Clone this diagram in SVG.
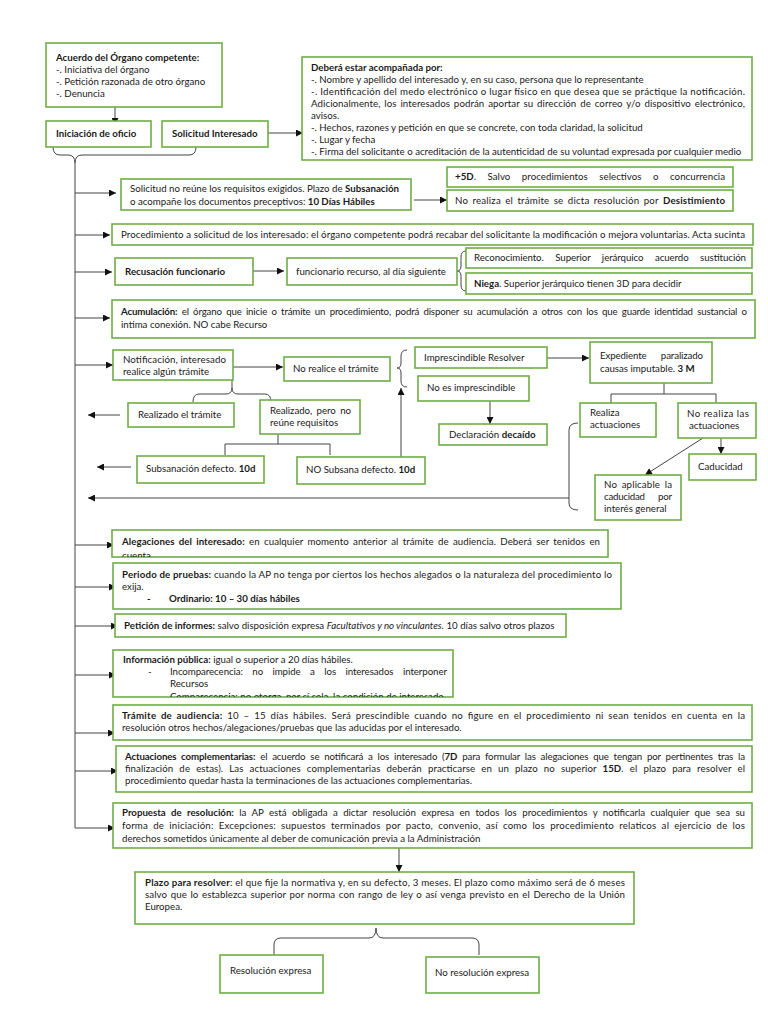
<svg xmlns="http://www.w3.org/2000/svg" width="768" height="1024" viewBox="0 0 768 1024">
<style>
.box{fill:#fff;stroke:#70ad47;stroke-width:1.6}
.t{font-family:Lato,"Open Sans","Liberation Sans",sans-serif;font-size:9.7px;fill:#1a1a1a}
.b{font-weight:bold}
.i{font-style:italic}
.c{stroke:#444;stroke-width:1;fill:none}
.ca{stroke:#444;stroke-width:1;fill:none;marker-end:url(#ah)}
</style>
<defs>
<marker id="ah" viewBox="0 0 10 10" refX="10" refY="5" markerWidth="8" markerHeight="7" markerUnits="userSpaceOnUse" orient="auto"><path d="M0,0 L10,5 L0,10 z" fill="#111"/></marker>
<clipPath id="clipAleg"><rect x="112" y="530" width="496" height="27"/></clipPath>
<clipPath id="clipInfo"><rect x="113" y="650" width="340" height="47"/></clipPath>
</defs>
<rect width="768" height="1024" fill="#fff"/>

<g id="connectors">
<path class="ca" d="M115,99 L115,125"/>
<path class="ca" d="M268,133 L303,133"/>
<path class="c" d="M53,147 Q53,155 60,155 L68,155 Q75,155 75,163 Q75,155 82,155 L189,155 Q196,155 196,147"/>
<path class="c" d="M75,163 L75,828"/>
<path class="ca" d="M75,193 L116,193"/>
<path class="ca" d="M75,235 L110,235"/>
<path class="ca" d="M75,272 L112,272"/>
<path class="ca" d="M75,318 L110,318"/>
<path class="ca" d="M75,365 L113,365"/>
<path class="ca" d="M75,545 L114,545"/>
<path class="ca" d="M75,587 L116,587"/>
<path class="ca" d="M75,626 L118,626"/>
<path class="ca" d="M75,675 L116,675"/>
<path class="ca" d="M75,733 L115,733"/>
<path class="ca" d="M75,771 L118,771"/>
<path class="ca" d="M75,828 L115,828"/>
<path class="ca" d="M414,200 L447,200"/>
<path class="ca" d="M253,271 L284,271"/>
<path class="c" d="M466,251 Q461,251 461,257 L461,266 Q461,271 457,271 Q461,271 461,276 L461,285 Q461,291 466,291"/>
<path class="ca" d="M233,367 L283,367"/>
<path class="c" d="M407,350 Q401,350 401,356 L401,363 Q401,368 397,368 Q401,368 401,373 L401,381 Q401,387 407,387"/>
<path class="ca" d="M547,358 L589,358"/>
<path class="ca" d="M490,398 L490,424"/>
<path class="c" d="M232,380 L232,388 Q232,394 238,394 L265,394 Q271,394 271,402 M232,388 Q232,394 226,394 L199,394 Q193,394 193,402"/>
<path class="ca" d="M120,415 L88,415"/>
<path class="c" d="M278,434 L278,444 M225,455 L225,444 L330,444 L330,455"/>
<path class="ca" d="M131,467 L97,467"/>
<path class="ca" d="M401,457 L401,388"/>
<path class="c" d="M664,383 L664,394 M611,404 L611,394 L716,394 L716,404"/>
<path class="ca" d="M721,438 L721,454"/>
<path class="ca" d="M703,438 L645,475"/>
<path class="c" d="M578,423 Q569,423 569,430 L569,503 Q569,510 578,510"/>
<path class="ca" d="M569,498 L88,498"/>
<path class="ca" d="M399,848 L399,872"/>
<path class="c" d="M274,955 L274,945 Q274,938 281,938 L369,938 Q376,938 376,928 Q376,938 383,938 L472,938 Q479,938 479,945 L479,955"/>
</g>

<g id="acuerdo">
<rect class="box" x="46" y="43" width="176" height="64"/>
<text class="t b" x="56" y="61">Acuerdo del Órgano competente:</text>
<text class="t" x="56" y="73">-. Iniciativa del órgano</text>
<text class="t" x="56" y="85">-. Petición razonada de otro órgano</text>
<text class="t" x="56" y="97">-. Denuncia</text>
</g>

<g id="iniciacion">
<rect class="box" x="46" y="121" width="105" height="26"/>
<text class="t b" x="56" y="137">Iniciación de oficio</text>
</g>

<g id="solicitud">
<rect class="box" x="162" y="121" width="106" height="26"/>
<text class="t b" x="172" y="137">Solicitud Interesado</text>
</g>

<g id="debera">
<rect class="box" x="302" y="57" width="450" height="103"/>
<text class="t b" x="311" y="71">Deberá estar acompañada por:</text>
<text class="t" x="311" y="83">-. Nombre y apellido del interesado y, en su caso, persona que lo representante</text>
<text class="t" x="311" y="95" textLength="434" lengthAdjust="spacing">-.  Identificación del medo electrónico o lugar físico en que desea que se práctique la notificación.</text>
<text class="t" x="311" y="107" textLength="434" lengthAdjust="spacing" style="word-spacing:1.3px">Adicionalmente, los interesados podrán aportar su dirección de correo y/o dispositivo electrónico,</text>
<text class="t" x="311" y="119">avisos.</text>
<text class="t" x="311" y="131">-. Hechos, razones y petición en que se concrete, con toda claridad, la solicitud</text>
<text class="t" x="311" y="143">-. Lugar y fecha</text>
<text class="t" x="311" y="155">-. Firma del solicitante o acreditación de la autenticidad de su voluntad expresada por cualquier medio</text>
</g>

<g id="subsanacion">
<rect class="box" x="121" y="179" width="290" height="31"/>
<text class="t" x="130" y="192">Solicitud no reúne los requisitos exigidos. Plazo de <tspan class="b">Subsanación</tspan></text>
<text class="t" x="130" y="205">o acompañe los documentos preceptivos: <tspan class="b">10 Días Hábiles</tspan></text>
</g>

<g id="mas5d">
<rect class="box" x="447" y="167" width="286" height="20"/>
<text class="t" x="455" y="180" textLength="270" lengthAdjust="spacing" style="word-spacing:9px"><tspan class="b">+5D</tspan>. Salvo procedimientos selectivos o concurrencia</text>
</g>

<g id="desistimiento">
<rect class="box" x="447" y="190" width="286" height="21"/>
<text class="t" x="455" y="204" textLength="270" lengthAdjust="spacing" style="word-spacing:1.7px">No realiza el trámite se dicta resolución por <tspan class="b">Desistimiento</tspan></text>
</g>

<g id="procedimiento">
<rect class="box" x="112" y="224" width="641" height="21"/>
<text class="t" x="121" y="238" textLength="624" lengthAdjust="spacing">Procedimiento a solicitud de los interesado: el órgano competente podrá recabar del solicitante la modificación o mejora voluntarias. Acta sucinta</text>
</g>

<g id="recusacion">
<rect class="box" x="115" y="258" width="138" height="27"/>
<text class="t b" x="125" y="275">Recusación funcionario</text>
</g>

<g id="funcionario">
<rect class="box" x="287" y="258" width="170" height="27"/>
<text class="t" x="296" y="275">funcionario recurso, al día siguiente</text>
</g>

<g id="reconocimiento">
<rect class="box" x="466" y="248" width="286" height="20"/>
<text class="t" x="474" y="261" textLength="272" lengthAdjust="spacing" style="word-spacing:9px">Reconocimiento. Superior jerárquico acuerdo sustitución</text>
</g>

<g id="niega">
<rect class="box" x="466" y="273" width="286" height="21"/>
<text class="t" x="474" y="287"><tspan class="b">Niega</tspan>. Superior jerárquico tienen 3D para decidir</text>
</g>

<g id="acumulacion">
<rect class="box" x="112" y="300" width="643" height="38"/>
<text class="t" x="121" y="315" textLength="626" lengthAdjust="spacing" style="word-spacing:2px"><tspan class="b">Acumulación:</tspan> el órgano que inicie o trámite un procedimiento, podrá disponer su acumulación a otros con los que guarde identidad sustancial o</text>
<text class="t" x="121" y="328">intima conexión. NO cabe Recurso</text>
</g>

<g id="notificacion">
<rect class="box" x="113" y="350" width="120" height="30"/>
<text class="t" x="123" y="363" textLength="103" lengthAdjust="spacing">Notificación, interesado</text>
<text class="t" x="123" y="375">realice algún trámite</text>
</g>

<g id="norealice">
<rect class="box" x="284" y="357" width="106" height="24"/>
<text class="t" x="293" y="372">No realice el trámite</text>
</g>

<g id="imprescindible">
<rect class="box" x="415" y="347" width="132" height="21"/>
<text class="t" x="424" y="361">Imprescindible Resolver</text>
</g>

<g id="expediente">
<rect class="box" x="590" y="342" width="122" height="41"/>
<text class="t" x="600" y="359" textLength="103" lengthAdjust="spacing" style="word-spacing:12px">Expediente paralizado</text>
<text class="t" x="600" y="372">causas imputable. <tspan class="b">3 M</tspan></text>
</g>

<g id="noesimprescindible">
<rect class="box" x="418" y="376" width="111" height="25"/>
<text class="t" x="427" y="391">No es imprescindible</text>
</g>

<g id="decaido">
<rect class="box" x="439" y="424" width="108" height="21"/>
<text class="t" x="449" y="438">Declaración <tspan class="b">decaído</tspan></text>
</g>

<g id="realizado">
<rect class="box" x="128" y="403" width="106" height="24"/>
<text class="t" x="138" y="418">Realizado el trámite</text>
</g>

<g id="realizadopero">
<rect class="box" x="260" y="400" width="100" height="34"/>
<text class="t" x="270" y="414" textLength="81" lengthAdjust="spacing" style="word-spacing:2px">Realizado, pero no</text>
<text class="t" x="270" y="426">reúne requisitos</text>
</g>

<g id="subsanaciondefecto">
<rect class="box" x="137" y="456" width="127" height="27"/>
<text class="t" x="146" y="472">Subsanación defecto. <tspan class="b">10d</tspan></text>
</g>

<g id="nosubsana">
<rect class="box" x="297" y="457" width="128" height="27"/>
<text class="t" x="306" y="473">NO Subsana defecto. <tspan class="b">10d</tspan></text>
</g>

<g id="realiza">
<rect class="box" x="580" y="403" width="76" height="34"/>
<text class="t" x="590" y="416">Realiza</text>
<text class="t" x="590" y="428">actuaciones</text>
</g>

<g id="norealiza">
<rect class="box" x="678" y="403" width="78" height="35"/>
<text class="t" x="687" y="417" textLength="62" lengthAdjust="spacing">No realiza las</text>
<text class="t" x="689" y="429">actuaciones</text>
</g>

<g id="caducidad">
<rect class="box" x="689" y="454" width="67" height="26"/>
<text class="t" x="698" y="470">Caducidad</text>
</g>

<g id="noaplicable">
<rect class="box" x="595" y="475" width="86" height="45"/>
<text class="t" x="604" y="488" textLength="68" lengthAdjust="spacing" style="word-spacing:2px">No aplicable la</text>
<text class="t" x="604" y="500" textLength="68" lengthAdjust="spacing" style="word-spacing:11px">caducidad por</text>
<text class="t" x="604" y="512">interés general</text>
</g>

<g id="alegaciones">
<rect class="box" x="112" y="530" width="496" height="27"/>
<g clip-path="url(#clipAleg)">
<text class="t" x="122" y="545" textLength="478" lengthAdjust="spacing" style="word-spacing:1.8px"><tspan class="b">Alegaciones del interesado:</tspan> en cualquier momento anterior al trámite de audiencia. Deberá ser tenidos en</text>
<text class="t" x="122" y="559">cuenta</text>
</g>
</g>

<g id="pruebas">
<rect class="box" x="113" y="563" width="508" height="46"/>
<text class="t" x="122" y="578" textLength="490" lengthAdjust="spacing"><tspan class="b">Periodo de pruebas:</tspan> cuando la AP no tenga por ciertos los hechos alegados o la naturaleza del procedimiento lo</text>
<text class="t" x="122" y="590">exija.</text>
<text class="t b" x="147" y="602">-</text>
<text class="t b" x="169" y="602">Ordinario: 10 – 30 días hábiles</text>
</g>

<g id="peticion">
<rect class="box" x="115" y="614" width="451" height="23"/>
<text class="t" x="124" y="629"><tspan class="b">Petición de informes:</tspan> salvo disposición expresa <tspan class="i">Facultativos y no vinculantes.</tspan> 10 días salvo otros plazos</text>
</g>

<g id="informacion">
<rect class="box" x="113" y="650" width="340" height="47"/>
<g clip-path="url(#clipInfo)">
<text class="t" x="123" y="663"><tspan class="b">Información pública:</tspan> igual o superior a 20 días hábiles.</text>
<text class="t" x="148" y="675">-</text>
<text class="t" x="170" y="675" textLength="277" lengthAdjust="spacing" style="word-spacing:7px">Incomparecencia: no impide a los interesados interponer</text>
<text class="t" x="170" y="687">Recursos</text>
<text class="t" x="170" y="700">Comparecencia: no otorga, por sí sola, la condición de interesado</text>
</g>
</g>

<g id="audiencia">
<rect class="box" x="113" y="705" width="639" height="35"/>
<text class="t" x="122" y="719" textLength="623" lengthAdjust="spacing" style="word-spacing:2px"><tspan class="b">Trámite de audiencia:</tspan> 10 – 15 días hábiles. Será prescindible cuando no figure en el procedimiento ni sean tenidos en cuenta en la</text>
<text class="t" x="122" y="731">resolución otros hechos/alegaciones/pruebas que las aducidas por el interesado.</text>
</g>

<g id="complementarias">
<rect class="box" x="116" y="746" width="636" height="46"/>
<text class="t" x="125" y="760" textLength="620" lengthAdjust="spacing" style="word-spacing:2.5px"><tspan class="b">Actuaciones complementarias:</tspan> el acuerdo se notificará a los interesado (<tspan class="b">7D</tspan> para formular las alegaciones que tengan por pertinentes tras la</text>
<text class="t" x="125" y="772" textLength="620" lengthAdjust="spacing" style="word-spacing:3.5px">finalización de estas). Las actuaciones complementarias deberán practicarse en un plazo no superior <tspan class="b">15D</tspan>. el plazo para resolver el</text>
<text class="t" x="125" y="784">procedimiento quedar hasta la terminaciones de las actuaciones complementarias.</text>
</g>

<g id="propuesta">
<rect class="box" x="113" y="803" width="639" height="45"/>
<text class="t" x="122" y="816" textLength="623" lengthAdjust="spacing" style="word-spacing:3px"><tspan class="b">Propuesta de resolución:</tspan> la AP está obligada a dictar resolución expresa en todos los procedimientos y notificarla cualquier que sea su</text>
<text class="t" x="122" y="829" textLength="623" lengthAdjust="spacing" style="word-spacing:2.5px">forma de iniciación: Excepciones: supuestos terminados por pacto, convenio, así como los procedimiento relaticos al ejercicio de los</text>
<text class="t" x="122" y="842">derechos sometidos únicamente al deber de comunicación previa a la Administración</text>
</g>

<g id="plazo">
<rect class="box" x="135" y="872" width="499" height="52"/>
<text class="t" x="145" y="886" textLength="480" lengthAdjust="spacing"><tspan class="b">Plazo para resolver</tspan>: el que fije la normativa y, en su defecto, 3 meses. El plazo como máximo será de 6 meses</text>
<text class="t" x="145" y="898" textLength="480" lengthAdjust="spacing" style="word-spacing:1px">salvo que lo establezca superior por norma con rango de ley o así venga previsto en el Derecho de la Unión</text>
<text class="t" x="145" y="910">Europea.</text>
</g>

<g id="resolucionexpresa">
<rect class="box" x="220" y="955" width="103" height="38"/>
<text class="t" x="230" y="974">Resolución expresa</text>
</g>

<g id="noresolucion">
<rect class="box" x="426" y="957" width="113" height="36"/>
<text class="t" x="435" y="976">No resolución expresa</text>
</g>
</svg>
